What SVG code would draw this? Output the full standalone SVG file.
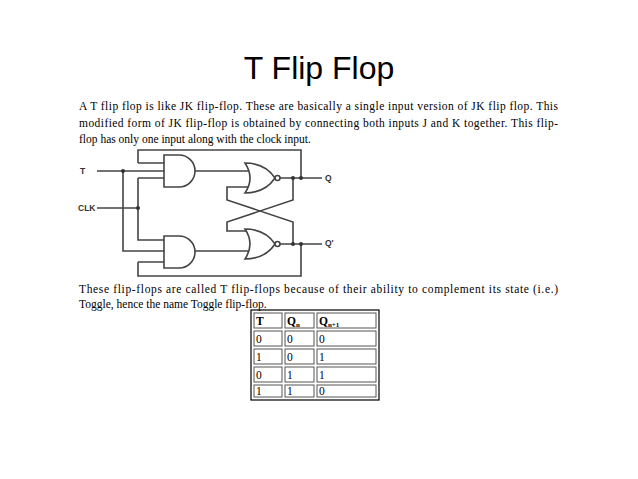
<svg xmlns="http://www.w3.org/2000/svg" width="638" height="479" viewBox="0 0 638 479">
<style>
.t{font-family:"Liberation Serif",serif;font-size:11.5px;fill:#000}
.w{fill:none;stroke:#444;stroke-width:1.6}
.g{fill:#fff;stroke:#444;stroke-width:1.6}
.c{fill:none;stroke:#555;stroke-width:1}
.l{font-family:"Liberation Sans",sans-serif;font-weight:bold;font-size:8.5px;fill:#333}
</style>
<rect width="638" height="479" fill="#fff"/>
<text x="319" y="79" text-anchor="middle" font-family="Liberation Sans Narrow,Liberation Sans,sans-serif" font-size="32">T Flip Flop</text>
<text class="t" x="79" y="110" textLength="479" lengthAdjust="spacing">A T flip flop is like JK flip-flop. These are basically a single input version of JK flip flop. This</text>
<text class="t" x="79" y="127" textLength="479" lengthAdjust="spacing">modified form of JK flip-flop is obtained by connecting both inputs J and K together. This flip-</text>
<text class="t" x="79" y="143">flop has only one input along with the clock input.</text>
<text class="t" x="79" y="293" textLength="479" lengthAdjust="spacing">These flip-flops are called T flip-flops because of their ability to complement its state (i.e.)</text>
<text class="t" x="79" y="308">Toggle, hence the name Toggle flip-flop.</text>
<g id="connectors">
<path class="w" d="M97,171 H164 M123,171 V251 H164 M97,208 H138 M138,178 H164 M138,178 V240 H164 M138,163 H164 M138,163 V150 H301 V178 M138,262 H164 M138,262 V276 H301 V244 M195,171 H250 M195,251 H250 M278,178 H322 M278,244 H322 M293,178 V200 L227,222 V231 H250 M293,244 V222 L227,200 V187 H250"/>
<circle cx="123" cy="171" r="2" fill="#333"/><circle cx="138" cy="208" r="2" fill="#333"/>
<circle cx="293" cy="178" r="2" fill="#333"/><circle cx="301" cy="178" r="2" fill="#333"/>
<circle cx="293" cy="244" r="2" fill="#333"/><circle cx="301" cy="244" r="2" fill="#333"/>
</g>
<g id="and1"><path class="g" d="M164,155 H179 A16,16 0 0 1 179,187 H164 Z"/></g>
<g id="and2"><path class="g" d="M164,236 H179 A16,16 0 0 1 179,268 H164 Z"/></g>
<g id="nor1"><path class="g" d="M245,163 Q255,178 245,193 Q265,193 275,178 Q265,163 245,163 Z"/><circle class="g" cx="277.5" cy="178" r="2.5"/></g>
<g id="nor2"><path class="g" d="M245,229 Q255,244 245,259 Q265,259 275,244 Q265,229 245,229 Z"/><circle class="g" cx="277.5" cy="244" r="2.5"/></g>
<text class="l" x="80" y="174">T</text><text class="l" x="78" y="211">CLK</text>
<text class="l" x="325" y="181">Q</text><text class="l" x="325" y="246">Q'</text>
<g id="table">
<rect x="251" y="310" width="128" height="90" fill="none" stroke="#000" stroke-width="1.2"/>
<g class="c">
<rect x="254" y="313" width="28" height="15"/><rect x="285" y="313" width="29" height="15"/><rect x="317" y="313" width="59" height="15"/>
<rect x="254" y="331" width="28" height="15"/><rect x="285" y="331" width="29" height="15"/><rect x="317" y="331" width="59" height="15"/>
<rect x="254" y="349" width="28" height="15"/><rect x="285" y="349" width="29" height="15"/><rect x="317" y="349" width="59" height="15"/>
<rect x="254" y="367" width="28" height="15"/><rect x="285" y="367" width="29" height="15"/><rect x="317" y="367" width="59" height="15"/>
<rect x="254" y="385" width="28" height="12"/><rect x="285" y="385" width="29" height="12"/><rect x="317" y="385" width="59" height="12"/>
</g>
<g class="t" font-size="11">
<text x="256" y="325" font-weight="bold">T</text><text x="287" y="325" font-weight="bold">Q<tspan font-size="7" dy="2">n</tspan></text><text x="319" y="325" font-weight="bold">Q<tspan font-size="7" dy="2">n+1</tspan></text>
<text x="256" y="343">0</text><text x="287" y="343">0</text><text x="319" y="343">0</text>
<text x="256" y="361">1</text><text x="287" y="361">0</text><text x="319" y="361">1</text>
<text x="256" y="379">0</text><text x="287" y="379">1</text><text x="319" y="379">1</text>
<text x="256" y="395">1</text><text x="287" y="395">1</text><text x="319" y="395">0</text>
</g>
</g>
</svg>
